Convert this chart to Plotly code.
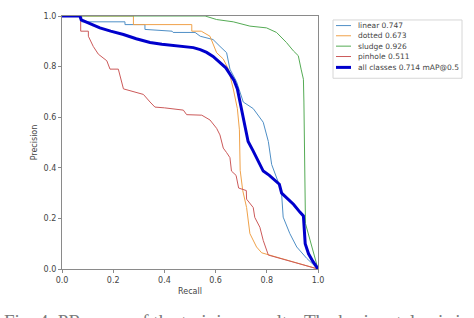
import plotly.graph_objects as go

# ---- data ----
linear_r = [0.0, 0.077, 0.077, 0.246, 0.246, 0.324, 0.324, 0.43, 0.434, 0.52, 0.54, 0.59, 0.617, 0.643,
            0.656, 0.682, 0.708, 0.747, 0.786, 0.799, 0.806, 0.819, 0.838, 0.857, 0.864, 0.89, 0.917, 0.956, 1.0]
linear_p = [1.0, 1.0, 0.977, 0.977, 0.966, 0.966, 0.947, 0.94, 0.935, 0.935, 0.92, 0.907, 0.88, 0.855,
            0.79, 0.74, 0.66, 0.634, 0.58, 0.53, 0.504, 0.413, 0.36, 0.31, 0.205, 0.14, 0.087, 0.042, 0.0]

dotted_r = [0.0, 0.279, 0.279, 0.507, 0.507, 0.544, 0.578, 0.604, 0.63, 0.65, 0.669, 0.685, 0.693,
            0.696, 0.706, 0.721, 0.734, 0.76, 0.78, 1.0]
dotted_p = [1.0, 1.0, 0.966, 0.966, 0.94, 0.94, 0.92, 0.855, 0.83, 0.79, 0.712, 0.634, 0.55,
            0.39, 0.31, 0.243, 0.14, 0.087, 0.064, 0.0]

sludge_r = [0.0, 0.559, 0.604, 0.669, 0.734, 0.799, 0.838, 0.877, 0.904, 0.923, 0.934, 0.943,
            0.945, 0.949, 0.951, 1.0]
sludge_p = [1.0, 1.0, 0.986, 0.977, 0.96, 0.953, 0.935, 0.895, 0.862, 0.843, 0.79, 0.75,
            0.66, 0.44, 0.18, 0.0]

pinhole_r = [0.0, 0.073, 0.073, 0.103, 0.103, 0.122, 0.142, 0.175, 0.1875, 0.22, 0.24, 0.279, 0.318,
             0.344, 0.363, 0.40, 0.474, 0.487, 0.546, 0.578, 0.604, 0.617, 0.63, 0.643, 0.656,
             0.662, 0.68, 0.69, 0.72, 0.721, 0.747, 0.753, 0.773, 0.786, 0.806, 1.0]
pinhole_p = [1.0, 1.0, 0.94, 0.94, 0.92, 0.88, 0.849, 0.823, 0.79, 0.79, 0.712, 0.70, 0.69,
             0.66, 0.64, 0.637, 0.628, 0.61, 0.608, 0.589, 0.556, 0.53, 0.478, 0.46, 0.44,
             0.387, 0.37, 0.32, 0.31, 0.276, 0.243, 0.204, 0.165, 0.113, 0.055, 0.0]

all_r = [0.0, 0.07, 0.075, 0.1, 0.125, 0.148, 0.19, 0.24, 0.29, 0.344, 0.39, 0.434, 0.48, 0.513,
         0.54, 0.565, 0.59, 0.617, 0.64, 0.656, 0.672, 0.685, 0.695, 0.708, 0.718, 0.727, 0.745,
         0.765, 0.786, 0.81, 0.83, 0.849, 0.858, 0.88, 0.905, 0.93, 0.943, 0.95, 0.963, 0.98, 1.0]
all_p = [1.0, 1.0, 0.985, 0.975, 0.962, 0.953, 0.94, 0.927, 0.91, 0.895, 0.888, 0.884, 0.879, 0.875,
         0.867, 0.856, 0.84, 0.816, 0.795, 0.77, 0.745, 0.712, 0.66, 0.595, 0.55, 0.504, 0.47,
         0.43, 0.387, 0.37, 0.35, 0.335, 0.30, 0.28, 0.255, 0.224, 0.21, 0.10, 0.06, 0.03, 0.0]

series_names = ["linear 0.747", "dotted 0.673", "sludge 0.926", "pinhole 0.511", "all classes 0.714 mAP@0.5"]
series_r = [linear_r, dotted_r, sludge_r, pinhole_r, all_r]
series_p = [linear_p, dotted_p, sludge_p, pinhole_p, all_p]
series_colors = ["#4f8fc6", "#f0a24a", "#55ab55", "#cc5a5a", "#0000cc"]
series_widths = [1, 1, 1, 1, 3]
x_ticks = [0.0, 0.2, 0.4, 0.6, 0.8, 1.0]
y_ticks = [0.0, 0.2, 0.4, 0.6, 0.8, 1.0]
caption = "Fig. 4. PR curve of the training results. The horizontal axis is"

# plot-area geometry in pixels (for converting the hand-drawn legend to paper coords)
L, T, W, H = 62, 13, 256, 256
def px(x):
    return (x - L) / W
def py(y):
    return (T + H - y) / H

fig = go.Figure()
for name, r, p, color, w in zip(series_names, series_r, series_p, series_colors, series_widths):
    fig.add_trace(go.Scatter(x=r, y=p, mode="lines", name=name, showlegend=False,
                             line=dict(color=color, width=w), cliponaxis=False))

axis_common = dict(range=[0, 1], showgrid=False, zeroline=False, showline=True, mirror=True,
                   linecolor="#8a8a8a", linewidth=1.2, ticks="outside", ticklen=3, tickcolor="#8a8a8a",
                   tickfont=dict(size=8, color="#444", family="DejaVu Sans"), tickformat=".1f")
fig.update_xaxes(**axis_common, tickvals=x_ticks,
                 title=dict(text="Recall", font=dict(size=8, color="#444", family="DejaVu Sans"), standoff=4))
fig.update_yaxes(**axis_common, tickvals=y_ticks,
                 title=dict(text="Precision", font=dict(size=8, color="#444", family="DejaVu Sans"), standoff=4))

# legend box drawn by hand (matplotlib style)
shapes = [dict(type="rect", xref="paper", yref="paper", x0=px(333), x1=px(462), y0=py(76), y1=py(17),
               line=dict(color="#d6d6d6", width=1), fillcolor="white", layer="above")]
annotations = []
row_y = [22.7, 33.0, 43.5, 54.0, 65.0]
for name, color, w, ry in zip(series_names, series_colors, series_widths, row_y):
    shapes.append(dict(type="line", xref="paper", yref="paper", x0=px(336), x1=px(351), y0=py(ry), y1=py(ry),
                       line=dict(color=color, width=w), layer="above"))
    annotations.append(dict(text=name, xref="paper", yref="paper", x=px(356), y=py(ry),
                            xanchor="left", yanchor="middle", showarrow=False,
                            font=dict(size=7.5, color="#444", family="DejaVu Sans")))

# figure caption, cut by the bottom edge as in the reference
annotations.append(dict(text=caption, xref="paper", yref="paper", x=px(2), y=py(309),
                        xanchor="left", yanchor="top", showarrow=False,
                        font=dict(family="Liberation Serif", size=19, color="#7a7a7a")))

fig.update_layout(
    width=474, height=318,
    margin=dict(l=L, r=474 - L - W, t=T, b=318 - T - H),
    paper_bgcolor="white", plot_bgcolor="white",
    showlegend=False,
    shapes=shapes, annotations=annotations,
)
fig.write_html("out.html")
